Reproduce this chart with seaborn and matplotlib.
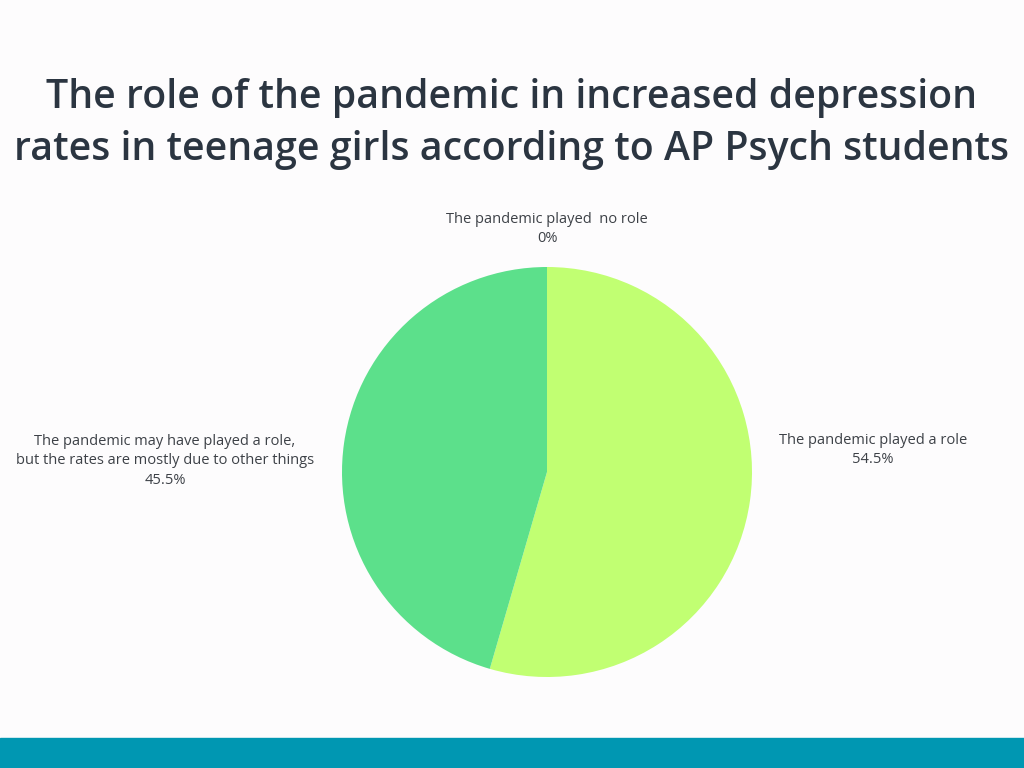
import matplotlib
matplotlib.use("Agg")
import matplotlib.pyplot as plt
import seaborn as sns

categories = [
    "The pandemic played  no role",
    "The pandemic played a role",
    "The pandemic may have played a role,\nbut the rates are mostly due to other things",
]
shares = [0.0, 54.5, 45.5]
pct_labels = ["0%", "54.5%", "45.5%"]
colors = ["#f4f8c0", "#c1ff72", "#5ce08b"]

sns.set_theme(style="white")
plt.rcParams["font.family"] = ["Open Sans", "DejaVu Sans"]

fig = plt.figure(figsize=(10.24, 7.68), dpi=100, facecolor="#fdfcfd")

# teal band at the bottom
fig.patches.append(plt.Rectangle((0, 0), 1, 30 / 768, transform=fig.transFigure,
                                 color="#0097b2", zorder=0))

fig.text(0.5, 1 - 124 / 768, "The role of the pandemic in increased depression\nrates in teenage girls according to AP Psych students",
         ha="center", va="center", fontsize=28.3, fontweight="semibold",
         color="#2b3541", linespacing=1.38)

ax = fig.add_axes([342 / 1024, 1 - 677 / 768, 410 / 1024, 410 / 768])
ax.pie(shares, colors=colors, startangle=90, counterclock=False, radius=1,
       wedgeprops=dict(linewidth=0))
ax.set_xlim(-1, 1)
ax.set_ylim(-1, 1)
ax.set_aspect("equal")
ax.axis("off")

txt = dict(ha="center", va="center", fontsize=10.5, color="#3d4147", linespacing=1.45)
fig.text(547 / 1024, 1 - 229 / 768, categories[0] + "\n" + pct_labels[0], **txt)
fig.text(873 / 1024, 1 - 450 / 768, categories[1] + "\n" + pct_labels[1], **txt)
fig.text(165 / 1024, 1 - 461 / 768, categories[2] + "\n" + pct_labels[2], **txt)

fig.savefig("out.png", dpi=100, facecolor=fig.get_facecolor())
